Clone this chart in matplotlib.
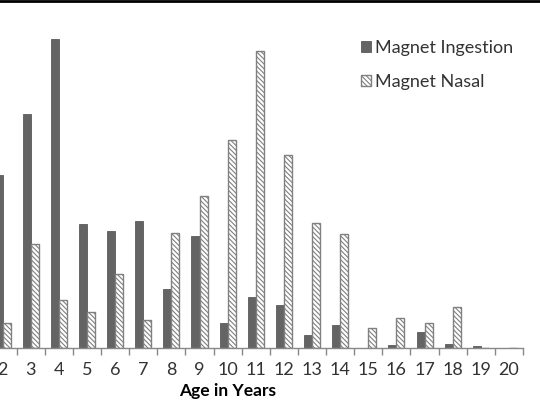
import matplotlib
matplotlib.use("Agg")
import matplotlib.pyplot as plt
import numpy as np
from matplotlib.lines import Line2D

# ages on the axis (0 and 1 fall off the left edge of the picture)
ages = list(range(0, 21))
tick_labels = ['', ''] + [str(a) for a in ages[2:]]

# bar heights (ages 2..20, arbitrary units)
vis_ages = list(range(2, 21))
ingestion = [10.5, 14.2, 18.7, 7.5, 7.1, 7.7, 3.6, 6.8, 1.5, 3.1,
             2.6, 0.8, 1.4, 0.0, 0.2, 1.0, 0.26, 0.14, 0.0]
nasal = [1.5, 6.3, 2.9, 2.2, 4.5, 1.7, 7.0, 9.2, 12.6, 18.0,
         11.7, 7.6, 6.9, 1.2, 1.8, 1.5, 2.5, 0.0, 0.0]

plt.rcParams['font.family'] = ['Lato', 'DejaVu Sans']
plt.rcParams['hatch.color'] = '#6e6e6e'
plt.rcParams['hatch.linewidth'] = 0.8

fig = plt.figure(figsize=(5.4, 4.05), dpi=100)
# plot area runs past the left edge, like the cropped original
ax = fig.add_axes([-67.7/540, 57/405, 590.7/540, 346/405])

w = 0.286
x = np.array(vis_ages)
ax.bar(x - w/2, ingestion, w, color='#646464', edgecolor='#5a5a5a',
       linewidth=0.6, label='Magnet Ingestion')
ax.bar(x + w/2, nasal, w, color='white', edgecolor='#808080',
       linewidth=1.0, hatch='\\\\\\\\\\\\\\', label='Magnet Nasal')

ax.set_xlim(-0.5, 20.5)
ax.set_ylim(0, 346/16.5)

for s in ['top', 'right', 'left']:
    ax.spines[s].set_visible(False)
ax.spines['bottom'].set_color('#888888')
ax.spines['bottom'].set_linewidth(1.0)
ax.set_yticks([])

ax.set_xticks(ages)
ax.set_xticklabels(tick_labels, fontsize=13, color='#333333')
ax.tick_params(axis='x', which='major', length=0, pad=10)
ax.set_xticks(np.arange(-0.5, 21, 1), minor=True)
ax.tick_params(axis='x', which='minor', length=5, color='#888888', width=1.0)

ax.set_xlabel('Age in Years', fontsize=12.5, fontweight='bold', labelpad=4)

leg = ax.legend(loc='upper left', bbox_to_anchor=(345/540, 1 - 24/405),
                bbox_transform=fig.transFigure, frameon=False,
                fontsize=13, handlelength=0.55, handleheight=0.55,
                handletextpad=0.2, labelspacing=1.0)
for t in leg.get_texts():
    t.set_color('#333333')

# black frame line along the top of the image
fig.add_artist(Line2D([0, 1], [1 - 1/405, 1 - 1/405], color='black',
                      linewidth=2, transform=fig.transFigure))

fig.savefig('out.png', dpi=100)
